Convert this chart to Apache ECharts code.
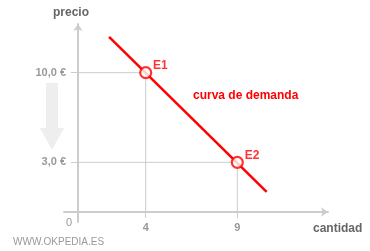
<!DOCTYPE html>
<html><head><meta charset="utf-8">
<script src="https://cdn.jsdelivr.net/npm/echarts@6/dist/echarts.min.js"></script>
<style>html,body{margin:0;padding:0;background:#fff}#c{width:370px;height:251px}</style>
</head><body><div id="c"></div>
<script>
// Data
var demandCurve = [[2.0, 12.8], [10.6, 0.7]];
var equilibria = [[4, 10, 'E1'], [9, 3, 'E2']];
var yTicks = [3, 10];
var yTickLabels = ['3,0 €', '10,0 €'];
var xTicks = [4, 9];
var xTickLabels = ['4', '9'];
// axis crossing values (schematic axes)
var yAxisAtX = 0.305;
var xAxisAtY = -0.883;

var F = '"Liberation Sans", Arial, sans-serif';
var guide1 = [[yAxisAtX, equilibria[0][1]], [equilibria[0][0], equilibria[0][1]], [equilibria[0][0], xAxisAtY]];
var guide2 = [[yAxisAtX, equilibria[1][1]], [equilibria[1][0], equilibria[1][1]], [equilibria[1][0], xAxisAtY]];

var chart = echarts.init(document.getElementById('c'), null, {renderer: 'canvas'});
chart.setOption({
  animation: false,
  grid: {left: 64, right: 42, top: 24, bottom: 29},
  xAxis: {
    type: 'value', min: -0.46, max: 13.95, offset: -10,
    splitLine: {show: false},
    axisLine: {onZero: false, lineStyle: {color: '#cccccc', width: 2}, symbol: ['none', 'arrow'], symbolSize: [7, 7]},
    axisTick: {show: true, customValues: xTicks, length: 6, lineStyle: {color: '#cccccc', width: 1}},
    axisLabel: {customValues: xTicks, margin: 10, color: '#999999', fontWeight: 'bold', fontSize: 11, fontFamily: F,
      formatter: function (v) { var i = xTicks.indexOf(v); return i >= 0 ? xTickLabels[i] : ''; }}
  },
  yAxis: {
    type: 'value', min: -1.66, max: 13.8, offset: -14,
    splitLine: {show: false},
    axisLine: {onZero: false, lineStyle: {color: '#cccccc', width: 2}, symbol: ['none', 'arrow'], symbolSize: [7, 7]},
    axisTick: {show: true, customValues: yTicks, length: 7, lineStyle: {color: '#cccccc', width: 1}},
    axisLabel: {customValues: yTicks, margin: 12, color: '#999999', fontWeight: 'bold', fontSize: 11, fontFamily: F,
      formatter: function (v) { var i = yTicks.indexOf(v); return i >= 0 ? yTickLabels[i] : ''; }}
  },
  graphic: [
    {type: 'polygon', shape: {points: [[46, 83], [58, 83], [58, 128], [64, 128], [52, 150], [40, 128], [46, 128]]}, style: {fill: '#eeeeee'}, silent: true},
    {type: 'text', left: 53, top: 7, style: {text: 'precio', fill: '#666666', font: 'bold 12px ' + F}},
    {type: 'text', left: 313, top: 223, style: {text: 'cantidad', fill: '#666666', font: 'bold 12px ' + F}},
    {type: 'text', left: 66, top: 217, style: {text: '0', fill: '#999999', font: '11px ' + F}},
    {type: 'text', left: 193, top: 90, style: {text: 'curva de demanda', fill: '#ff0000', font: 'bold 12px ' + F}},
    {type: 'text', left: 13, top: 237, style: {text: 'WWW.OKPEDIA.ES', fill: '#999999', font: '10px ' + F}}
  ],
  series: [
    {type: 'line', data: guide1, symbol: 'none', silent: true, z: 1, lineStyle: {color: '#cccccc', width: 1}},
    {type: 'line', data: guide2, symbol: 'none', silent: true, z: 1, lineStyle: {color: '#cccccc', width: 1}},
    {type: 'line', data: demandCurve, symbol: 'none', silent: true, z: 2, lineStyle: {color: '#ff0000', width: 2.5}},
    {type: 'scatter', data: equilibria, symbol: 'circle', symbolSize: 11, z: 3,
      itemStyle: {color: '#ffffff', borderColor: '#ff0000', borderWidth: 2.2},
      label: {show: true, position: [14, -6], formatter: function (p) { return p.data[2]; }, color: '#ff0000', fontWeight: 'bold', fontSize: 12, fontFamily: F}}
  ]
});
</script></body></html>
